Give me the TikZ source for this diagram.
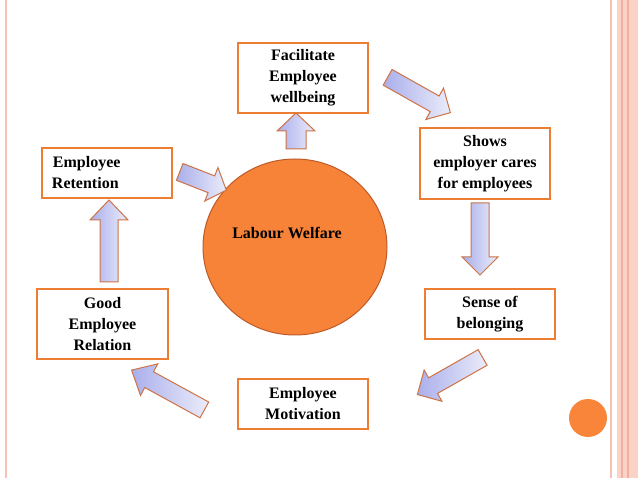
\documentclass[tikz,border=0pt]{standalone}
\usepackage{fontspec}
\setmainfont{Liberation Serif}
\usetikzlibrary{shapes.geometric}
\definecolor{bord}{RGB}{237,125,49}
\definecolor{marg}{RGB}{245,195,180}
\definecolor{margb}{RGB}{250,210,198}
\definecolor{margd}{RGB}{240,175,160}
\definecolor{dot}{RGB}{248,133,58}
\definecolor{circd}{RGB}{190,90,40}
\definecolor{circf}{RGB}{247,131,56}
\definecolor{arrd}{RGB}{205,115,70}
\definecolor{arrl}{RGB}{170,175,235}
\definecolor{arrr}{RGB}{235,236,250}
\begin{document}
\begin{tikzpicture}[x=1pt,y=-1pt,
  box/.style={draw=bord,line width=1.2pt,fill=white,align=center,font=\bfseries\fontsize{16}{21}\selectfont},
  arr/.style={draw=arrd,line width=1pt,left color=arrl,right color=arrr,line join=miter}]
\useasboundingbox[fill=white] (0,0) rectangle (638,478);
% margins
\fill[marg] (5,0) rectangle (7,478);
\fill[marg] (610,0) rectangle (612,478);
\fill[margb] (617,0) rectangle (638,478);
\fill[margd] (621,0) rectangle (623,478);
\fill[margd] (627,0) rectangle (629,478);
\fill[dot] (588,418) circle (19);
% circle
\node[ellipse,minimum width=184,minimum height=176,draw=circd,line width=1pt,fill=circf] (lw) at (295,247) {};
\node[font=\bfseries\fontsize{16}{21}\selectfont] (lwt) at (287,233) {Labour Welfare};
% boxes
\node[box,minimum width=130,minimum height=70] (fac) at (303,78) {Facilitate\\Employee\\wellbeing};
\node[box,minimum width=130,minimum height=71] (sho) at (485,163.5) {Shows\\employer cares\\for employees};
\node[box,minimum width=130,minimum height=50] (sen) at (490,314) {Sense of\\belonging};
\node[box,minimum width=130,minimum height=50] (mot) at (303,404) {Employee\\Motivation};
\node[box,minimum width=131,minimum height=70] (goo) at (102.5,324) {Good\\Employee\\Relation};
\node[box,minimum width=130,minimum height=50,align=left,text width=110] (ret) at (107,173) {\hspace*{1pt}Employee\\Retention};
% block arrows: cx cy angle length shafthalf headhalf headlen
\newcommand\barrow[7]{\begin{scope}[shift={(#1,#2)},rotate=#3]
\draw[arr] (-#4/2,-#5)--(#4/2-#7,-#5)--(#4/2-#7,-#6)--(#4/2,0)--(#4/2-#7,#6)--(#4/2-#7,#5)--(-#4/2,#5)--cycle;
\end{scope}}
\barrow{296}{131}{90}{36}{10}{19}{18}
\barrow{419}{95}{-29.4}{72}{9}{18}{18}
\barrow{480}{239}{-90}{72}{9}{18}{18}
\barrow{450}{376}{-150.4}{75}{9}{18}{18}
\barrow{168}{390}{151.3}{83}{9}{18}{20}
\barrow{109}{241}{90}{82}{9}{19}{20}
\barrow{203}{181}{-21.4}{50}{9}{18}{16}
\end{tikzpicture}
\end{document}
